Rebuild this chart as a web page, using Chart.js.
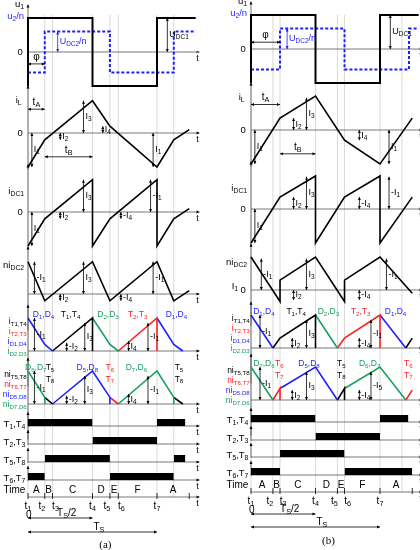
<!DOCTYPE html>
<html>
<head>
<meta charset="utf-8">
<script src="https://cdn.jsdelivr.net/npm/chart.js@4"></script>
<style>
  body { margin: 0; background: #fff; }
  #wrap { display: flex; width: 420px; height: 550px; }
  canvas { display: block; }
</style>
</head>
<body>
<div id="wrap">
  <canvas id="ca" width="210" height="550"></canvas>
  <canvas id="cb" width="210" height="550"></canvas>
</div>
<script>
// event times t1..t7 (fraction of Ts)
const eventsA = [0, 0.13, 0.19, 0.5, 0.635, 0.70, 1.0];
const eventsB = [0, 0.17, 0.225, 0.5, 0.67, 0.725, 1.0];
const intervalNames = ['A', 'B', 'C', 'D', 'E', 'F', 'A'];

// ---- column (a) waveforms, [t, value] ----
const u1A = [[0,-1],[0,1],[0.5,1],[0.5,-1],[1,-1],[1,1],[1.3,1]];
const u2A = [[0,-0.6],[0.13,-0.6],[0.13,0.6],[0.635,0.6],[0.635,-0.6],[1.13,-0.6],[1.13,0.6],[1.3,0.6]];
const iLA = [[0,-1],[0.13,-0.2],[0.5,0.95],[0.635,0.2],[1,-1],[1.13,-0.2],[1.25,0.1]];
const iDC1A = [[0,-1],[0.13,-0.2],[0.5,0.95],[0.5,-1],[0.635,-0.2],[1,0.95],[1,-1],[1.13,-0.2],[1.25,0.1]];
const niDC2A = [[0,0.95],[0.13,-0.2],[0.5,0.95],[0.635,-0.2],[1,0.95],[1.13,-0.2],[1.25,0.1]];
const iTA = [
  ['blue',  [[0,1],[0.13,0.2],[0.19,0]]],
  ['black', [[0.19,0],[0.5,1],[0.5,0]]],
  ['green', [[0.5,1],[0.635,0.2],[0.7,0]]],
  ['red',   [[0.7,0],[1,1],[1,0]]],
  ['blue',  [[1,1],[1.13,0.2],[1.2,0]]]
];
const niTA = [
  ['green', [[0,1],[0.13,0.2],[0.13,0]]],
  ['black', [[0.13,0.2],[0.19,0]]],
  ['blue',  [[0.19,0],[0.5,1],[0.635,0.2],[0.635,0]]],
  ['red',   [[0.635,0.2],[0.7,0]]],
  ['green', [[0.7,0],[1,1],[1.13,0.2],[1.13,0]]],
  ['black', [[1.13,0.2],[1.2,0]]]
];
const gatesA = {
  g1: [[0,0.5],[1,1.22]],
  g2: [[0.5,1]],
  g3: [[0.13,0.635],[1.13,1.22]],
  g4: [[0,0.13],[0.635,1.13]]
};

// ---- column (b) waveforms ----
const u1B = [[0,-1],[0,1],[0.5,1],[0.5,-1],[1,-1],[1,1],[1.3,1]];
const u2B = [[0,-0.6],[0.225,-0.6],[0.225,0.6],[0.725,0.6],[0.725,-0.6],[1.225,-0.6],[1.225,0.6],[1.3,0.6]];
const iLB = [[0,-1],[0.225,0.35],[0.5,1],[0.725,-0.3],[1,-1],[1.25,0.35]];
const iDC1B = [[0,-1],[0.225,0.35],[0.5,0.97],[0.5,-1],[0.725,0.35],[1,0.97],[1,-1],[1.25,0.35]];
const niDC2B = [[0,1],[0.225,-0.35],[0.225,0.3],[0.5,1],[0.725,-0.35],[0.725,0.3],[1,1],[1.25,-0.1]];
const iTB = [
  ['blue',  [[0,1],[0.17,0]]],
  ['black', [[0.17,0],[0.225,0.3],[0.5,1],[0.5,0]]],
  ['green', [[0.5,1],[0.67,0]]],
  ['red',   [[0.67,0],[0.725,0.3],[1,1],[1,0]]],
  ['blue',  [[1,1],[1.2,0]]],
  ['black', [[1.2,0],[1.25,0.3]]]
];
const niTB = [
  ['green', [[0,1],[0.17,0]]],
  ['red',   [[0.17,0],[0.225,0.35],[0.225,0]]],
  ['blue',  [[0.225,0.35],[0.5,1],[0.67,0]]],
  ['black', [[0.67,0],[0.725,0.35],[0.725,0]]],
  ['green', [[0.725,0.35],[1,1],[1.2,0]]],
  ['red',   [[1.2,0],[1.25,0.3]]]
];
const gatesB = {
  g1: [[0,0.5],[1,1.22]],
  g2: [[0.5,1]],
  g3: [[0.225,0.725]],
  g4: [[0,0.225],[0.725,1.25]]
};

const COL = { black: '#000', blue: '#1f1fff', red: '#ff2020', green: '#17a060' };

// panel baselines (page px) and amplitude
const panelsA = {
  u: {base: 52, amp: 34}, iL: {base: 133, amp: 34}, iDC1: {base: 212, amp: 34},
  niDC2: {base: 294, amp: 34}, iT: {base: 351, amp: 33}, niT: {base: 404, amp: 33},
  g1: {base: 426, amp: 7, gate: true}, g2: {base: 444, amp: 7, gate: true},
  g3: {base: 462, amp: 7, gate: true}, g4: {base: 480, amp: 7, gate: true},
  time: {base: 497, amp: 10, gate: true}
};
const panelsB = {
  u: {base: 49, amp: 34}, iL: {base: 130, amp: 34}, iDC1: {base: 209, amp: 34},
  niDC2: {base: 290, amp: 33}, iT: {base: 348, amp: 33}, niT: {base: 400, amp: 33},
  g1: {base: 422, amp: 7, gate: true}, g2: {base: 440, amp: 7, gate: true},
  g3: {base: 457, amp: 7, gate: true}, g4: {base: 475, amp: 7, gate: true},
  time: {base: 492, amp: 10, gate: true}
};

// vertical dimension arrows: [panel, t, v1, v2, label]
const dimsA = [
  ['u',1.08,0,1,'U_{DC1}'], ['u',0.23,0,0.6,'U_{DC2}/n','blue'],
  ['iL',0.03,0,-1,'I_1'], ['iL',0.25,0,-0.2,'I_2'], ['iL',0.43,0,0.95,'I_3'], ['iL',0.58,0,0.2,'I_4'], ['iL',0.97,0,-1,'I_1'],
  ['iDC1',0.03,0,-1,'I_1'], ['iDC1',0.25,0,-0.2,'I_2'], ['iDC1',0.43,0,0.95,'I_3'], ['iDC1',0.72,0,-0.2,'-I_4'], ['iDC1',0.95,0,0.95,'-I_1'],
  ['niDC2',0.05,0,0.95,'-I_1'], ['niDC2',0.25,0,-0.2,'I_2'], ['niDC2',0.43,0,0.95,'I_3'], ['niDC2',0.72,0,-0.2,'-I_4'], ['niDC2',0.97,0,0.95,'-I_1'],
  ['iT',0.05,0,1,'-I_1'], ['iT',0.3,0,0.25,'-I_2'], ['iT',0.44,0,0.85,'I_3'], ['iT',0.78,0,0.3,'I_4'], ['iT',0.93,0,0.85,'-I_1'],
  ['niT',0.05,0,1,'-I_1'], ['niT',0.3,0,0.25,'-I_2'], ['niT',0.44,0,0.85,'I_3'], ['niT',0.78,0,0.3,'I_4'], ['niT',0.93,0,0.85,'-I_1']
];
const dimsB = [
  ['u',1.08,0,1,'U_{DC1}'], ['u',0.28,0,0.6,'U_{DC2}/n','blue'],
  ['iL',0.03,0,-1,'I_1'], ['iL',0.33,0,0.35,'I_2'], ['iL',0.43,0,0.95,'I_3'], ['iL',0.84,0,-0.3,'I_4'], ['iL',1.07,0,-1,'I_1'],
  ['iDC1',0.03,0,-1,'I_1'], ['iDC1',0.33,0,0.35,'I_2'], ['iDC1',0.43,0,0.95,'I_3'], ['iDC1',0.84,0,0.35,'-I_4'], ['iDC1',1.07,0,0.95,'-I_1'],
  ['niDC2',0.08,0,0.95,'-I_1'], ['niDC2',0.33,0,-0.3,'I_2'], ['niDC2',0.43,0,0.95,'I_3'], ['niDC2',0.84,0,-0.3,'-I_4'], ['niDC2',1.05,0,0.95,'-I_1'],
  ['iT',0.07,0,1,'-I_1'], ['iT',0.32,0,0.3,'I_2'], ['iT',0.43,0,0.85,'I_3'], ['iT',0.84,0,0.3,'-I_4'], ['iT',0.93,0,0.85,'-I_1'],
  ['niT',0.07,0,1,'-I_1'], ['niT',0.32,0,0.3,'I_2'], ['niT',0.43,0,0.85,'I_3'], ['niT',0.84,0,0.3,'-I_4'], ['niT',0.93,0,0.85,'-I_5']
];
// horizontal dimension arrows: [panel, t1, t2, v, label]
const hdimsA = [['u',0,0.13,-0.35,'φ'], ['iL',0,0.13,0.7,'t_A'], ['iL',0.13,0.5,-0.7,'t_B']];
const hdimsB = [['u',0,0.225,0.2,'φ'], ['iL',0,0.225,0.75,'t_A'], ['iL',0.225,0.5,-0.7,'t_B']];

// text labels: [panel, t, v, text, color, align]
const leftLabels = [
  ['u',-0.03,1.4,'u_1','black','right'], ['u',-0.03,1.05,'u_2/n','blue','right'], ['u',-0.04,0,'0','black','right'],
  ['iL',-0.05,0.95,'i_L','black','right'], ['iL',-0.04,0,'0','black','right'],
  ['iDC1',-0.03,0.6,'i_{DC1}','black','right'], ['iDC1',-0.04,0,'0','black','right'],
  ['niDC2',-0.03,0.85,'ni_{DC2}','black','right'],
  ['iT',-0.01,0.88,'i_{T1,T4}','black','right'], ['iT',-0.01,0.58,'i_{T2,T3}','red','right'],
  ['iT',-0.01,0.28,'i_{D1,D4}','blue','right'], ['iT',-0.01,-0.02,'i_{D2,D3}','green','right'],
  ['niT',-0.01,0.88,'ni_{T5,T8}','black','right'], ['niT',-0.01,0.58,'ni_{T6,T7}','red','right'],
  ['niT',-0.01,0.28,'ni_{D5,D8}','blue','right'], ['niT',-0.01,-0.02,'ni_{D7,D6}','green','right'],
  ['g1',-0.02,0.3,'T_1,T_4','black','right'], ['g2',-0.02,0.3,'T_2,T_3','black','right'],
  ['g3',-0.02,0.3,'T_5,T_8','black','right'], ['g4',-0.02,0.3,'T_6,T_7','black','right']
];
const labelsA = leftLabels.concat([
  ['iT',0.12,1.1,'D_1,D_4','blue','center'], ['iT',0.33,1.1,'T_1,T_4','black','center'],
  ['iT',0.62,1.1,'D_2,D_3','green','center'], ['iT',0.85,1.1,'T_2,T_3','red','center'], ['iT',1.15,1.1,'D_1,D_4','blue','center'],
  ['niT',0.06,1.1,'D_6,D_7','green','center'], ['niT',0.17,1.1,'T_5','black','center'], ['niT',0.17,0.75,'T_8','black','center'],
  ['niT',0.46,1.1,'D_5,D_8','blue','center'], ['niT',0.635,1.1,'T_6','red','center'], ['niT',0.635,0.75,'T_7','red','center'],
  ['niT',0.84,1.1,'D_7,D_6','green','center'], ['niT',1.17,1.1,'T_5','black','center'], ['niT',1.17,0.75,'T_8','black','center']
]);
const labelsB = leftLabels.concat([
  ['niDC2',-0.1,0.1,'I_1','black','right'], ['niDC2',-0.04,0,'0','black','right'],
  ['iT',0.1,1.1,'D_1,D_4','blue','center'], ['iT',0.35,1.1,'T_1,T_4','black','center'],
  ['iT',0.6,1.1,'D_2,D_3','green','center'], ['iT',0.85,1.1,'T_2,T_3','red','center'], ['iT',1.12,1.1,'D_1,D_4','blue','center'],
  ['niT',0.1,1.1,'D_7,D_6','green','center'], ['niT',0.22,1.1,'T_6','red','center'], ['niT',0.22,0.75,'T_7','red','center'],
  ['niT',0.45,1.1,'D_5,D_8','blue','center'], ['niT',0.7,1.1,'T_5','black','center'], ['niT',0.7,0.75,'T_8','black','center'],
  ['niT',0.92,1.1,'D_6,D_7','green','center'], ['niT',1.22,1.1,'T_6','red','center'], ['niT',1.22,0.75,'T_7','red','center']
]);

const FONT = '"Liberation Sans", Arial, sans-serif';

function drawRich(ctx, str, x, y, color, align, size) {
  size = size || 10;
  const parts = [];
  const re = /_\{([^}]*)\}|_(.)|([^_]+)/g;
  let m;
  while ((m = re.exec(str))) {
    if (m[3] !== undefined) parts.push([m[3], false]);
    else parts.push([m[1] !== undefined ? m[1] : m[2], true]);
  }
  let w = 0;
  parts.forEach(p => { ctx.font = (p[1] ? size * 0.72 : size) + 'px ' + FONT; w += ctx.measureText(p[0]).width; });
  let cx = align === 'right' ? x - w : align === 'center' ? x - w / 2 : x;
  ctx.fillStyle = color;
  ctx.textBaseline = 'middle';
  ctx.textAlign = 'left';
  parts.forEach(p => {
    ctx.font = (p[1] ? size * 0.72 : size) + 'px ' + FONT;
    ctx.fillText(p[0], cx, p[1] ? y + size * 0.3 : y);
    cx += ctx.measureText(p[0]).width;
  });
}

function head(ctx, x, y, dx, dy, s) {
  s = s || 3;
  ctx.beginPath();
  ctx.moveTo(x, y);
  ctx.lineTo(x - dx * s - dy * s * 0.5, y - dy * s - dx * s * 0.5);
  ctx.lineTo(x - dx * s + dy * s * 0.5, y - dy * s + dx * s * 0.5);
  ctx.closePath();
  ctx.fill();
}

function buildChart(id, o) {
  const P = o.panels;
  const yOf = (pn, v) => P[pn].base - v * P[pn].amp;
  const toData = (pn, pts) => pts.map(([t, v]) => ({x: t, y: yOf(pn, v)}));
  const datasets = [];
  const line = (pn, pts, color, extra) => datasets.push(Object.assign({
    data: toData(pn, pts), borderColor: COL[color] || color, borderWidth: 1.6,
    pointRadius: 0, fill: false, tension: 0
  }, extra || {}));
  line('u', o.u1, 'black', {borderWidth: 2});
  line('u', o.u2, 'blue', {borderWidth: 2, borderDash: [3, 2]});
  line('iL', o.iL, 'black');
  line('iDC1', o.iDC1, 'black');
  line('niDC2', o.niDC2, 'black');
  o.iT.forEach(([c, pts]) => line('iT', pts, c));
  o.niT.forEach(([c, pts]) => line('niT', pts, c));
  Object.keys(o.gates).forEach(g => o.gates[g].forEach(([a, b]) => {
    line(g, [[a, 1], [b, 1]], 'black', {borderWidth: 0, fill: {value: P[g].base}, backgroundColor: '#000'});
  }));

  const deco = {
    id: 'deco',
    beforeDatasetsDraw(chart) {
      const ctx = chart.ctx, X = chart.scales.x, Y = chart.scales.y;
      ctx.save();
      // light grey guides at event times
      ctx.strokeStyle = '#cfcfcf'; ctx.lineWidth = 0.8;
      o.events.concat([o.events[1] + 1]).forEach(t => {
        const x = X.getPixelForValue(t);
        ctx.beginPath(); ctx.moveTo(x, Y.getPixelForValue(15)); ctx.lineTo(x, Y.getPixelForValue(P.time.base)); ctx.stroke();
      });
      // axes
      ctx.strokeStyle = '#555'; ctx.fillStyle = '#555'; ctx.lineWidth = 0.8;
      Object.keys(P).forEach(k => {
        const p = P[k];
        const y0 = Y.getPixelForValue(p.base);
        const x0 = X.getPixelForValue(0), x1 = X.getPixelForValue(1.33);
        ctx.beginPath(); ctx.moveTo(x0, y0); ctx.lineTo(x1, y0); ctx.stroke();
        head(ctx, x1, y0, 1, 0);
        drawRich(ctx, 't', x1 - 2, y0 + 7, '#000', 'center', 9);
        if (k === 'time') return;
        const top = Y.getPixelForValue(p.gate ? p.base - 14 : p.base - p.amp * 1.4);
        const bot = Y.getPixelForValue(p.gate ? p.base + 1 : p.base + p.amp * 1.08);
        ctx.beginPath(); ctx.moveTo(x0, bot); ctx.lineTo(x0, top); ctx.stroke();
        head(ctx, x0, top, 0, -1);
      });
      ctx.restore();
    },
    afterDatasetsDraw(chart) {
      const ctx = chart.ctx, X = chart.scales.x, Y = chart.scales.y;
      const px = t => X.getPixelForValue(t), py = (pn, v) => Y.getPixelForValue(yOf(pn, v));
      ctx.save();
      ctx.lineWidth = 0.8;
      o.dims.forEach(([pn, t, v1, v2, lab, c]) => {
        const col = COL[c || 'black'];
        ctx.strokeStyle = col; ctx.fillStyle = col;
        const x = px(t), ya = py(pn, v1), yb = py(pn, v2);
        ctx.beginPath(); ctx.moveTo(x, ya); ctx.lineTo(x, yb); ctx.stroke();
        const d = yb > ya ? 1 : -1;
        head(ctx, x, yb, 0, d); head(ctx, x, ya, 0, -d);
        drawRich(ctx, lab, x + 2, (ya + yb) / 2, col, 'left', 9);
      });
      ctx.strokeStyle = '#000'; ctx.fillStyle = '#000';
      o.hdims.forEach(([pn, t1, t2, v, lab]) => {
        const y = py(pn, v), xa = px(t1), xb = px(t2);
        ctx.beginPath(); ctx.moveTo(xa, y); ctx.lineTo(xb, y); ctx.stroke();
        head(ctx, xb, y, 1, 0); head(ctx, xa, y, -1, 0);
        drawRich(ctx, lab, (xa + xb) / 2, y - 7, '#000', 'center', 10);
      });
      o.labels.forEach(([pn, t, v, txt, c, al]) => drawRich(ctx, txt, px(t), py(pn, v), COL[c], al, pn === 'iT' || pn === 'niT' ? 8.5 : 9.5));
      // time row
      const ev = o.events.concat([1.25]);
      const yt = Y.getPixelForValue(P.time.base);
      drawRich(ctx, 'Time', px(-0.02), yt - 7, '#000', 'right', 10);
      ev.forEach((t, i) => {
        ctx.beginPath(); ctx.moveTo(px(t), yt - 4); ctx.lineTo(px(t), yt + 2); ctx.stroke();
        if (i < 7) drawRich(ctx, intervalNames[i], (px(t) + px(ev[i + 1])) / 2, yt - 7, '#000', 'center', 10);
      });
      o.events.forEach((t, i) => drawRich(ctx, 't_' + (i + 1), px(t) + (i === 1 || i === 4 ? -3 : i === 2 || i === 5 ? 3 : 0), yt + 9, '#000', 'center', 10));
      drawRich(ctx, '0', px(0) - 2, yt + 18, '#000', 'left', 10);
      [[0.5, 'T_S/2', o.tsHalf], [1, 'T_S', o.tsFull]].forEach(([t, lab, y]) => {
        const yy = Y.getPixelForValue(y);
        ctx.beginPath(); ctx.moveTo(px(0), yy); ctx.lineTo(px(t), yy); ctx.stroke();
        head(ctx, px(0), yy, -1, 0); head(ctx, px(t), yy, 1, 0);
        drawRich(ctx, lab, px(t / 2 + 0.05), yy - 5, '#000', 'center', 10);
      });
      ctx.font = '11px "Liberation Serif", serif'; ctx.textAlign = 'center'; ctx.fillStyle = '#000';
      ctx.fillText(o.caption, px(0.6), Y.getPixelForValue(o.capY));
      ctx.restore();
    }
  };

  return new Chart(document.getElementById(id), {
    type: 'scatter',
    data: { datasets },
    options: {
      responsive: false, animation: false, showLine: true,
      layout: { padding: 0 },
      plugins: { legend: { display: false }, tooltip: { enabled: false } },
      scales: {
        x: { type: 'linear', display: false, min: o.xMin, max: o.xMin + 210 / 129 },
        y: { type: 'linear', display: false, min: 0, max: 550, reverse: true }
      }
    },
    plugins: [deco]
  });
}

buildChart('ca', {
  panels: panelsA, events: eventsA, u1: u1A, u2: u2A, iL: iLA, iDC1: iDC1A, niDC2: niDC2A,
  iT: iTA, niT: niTA, gates: gatesA, dims: dimsA, hdims: hdimsA, labels: labelsA,
  xMin: -28 / 129, tsHalf: 518, tsFull: 532, caption: '(a)', capY: 545
});
buildChart('cb', {
  panels: panelsB, events: eventsB, u1: u1B, u2: u2B, iL: iLB, iDC1: iDC1B, niDC2: niDC2B,
  iT: iTB, niT: niTB, gates: gatesB, dims: dimsB, hdims: hdimsB, labels: labelsB,
  xMin: -41 / 129, tsHalf: 514, tsFull: 527, caption: '(b)', capY: 541
});
</script>
</body>
</html>
